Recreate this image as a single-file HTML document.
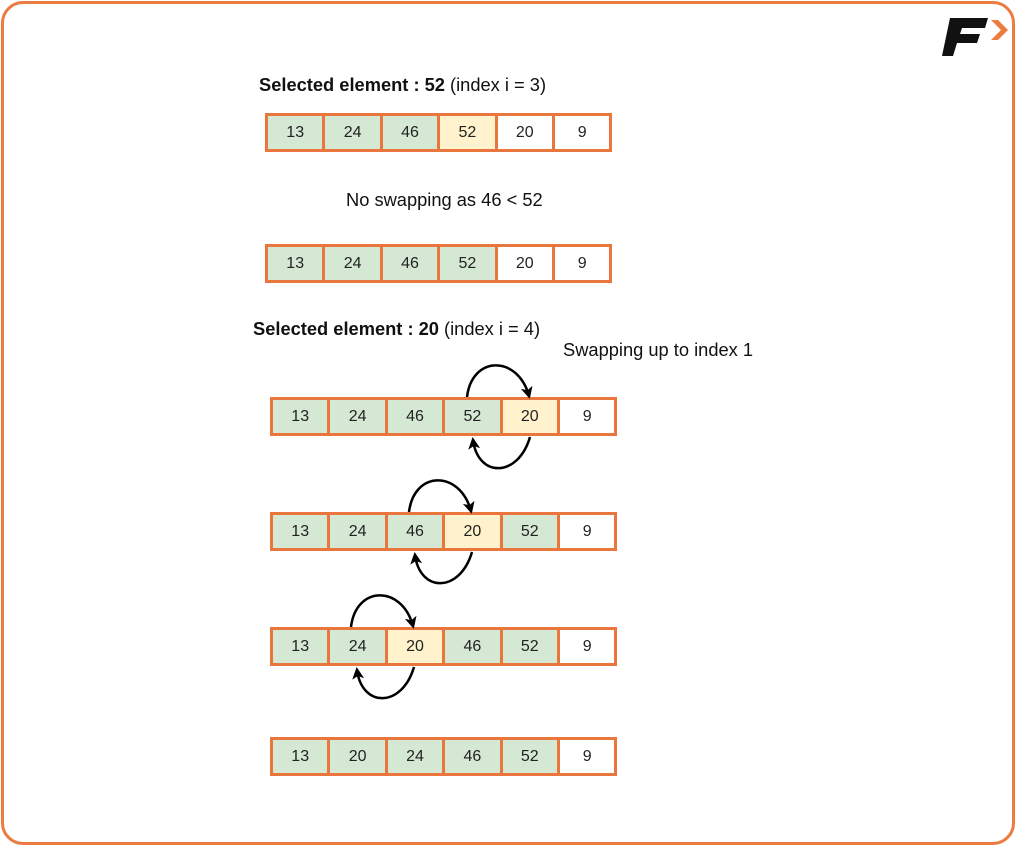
<!DOCTYPE html>
<html><head><style>
body{margin:0;width:1015px;height:845px;background:#fff;font-family:"Liberation Sans",sans-serif;position:relative;overflow:hidden}
.frame{position:absolute;left:1px;top:1px;width:1008px;height:838px;border:3px solid #ec7b40;border-radius:22px}
.row{position:absolute;display:flex;height:39px;box-sizing:border-box}
.c{width:60.4px;height:39px;box-sizing:border-box;border:3px solid #e9773d;margin-left:-3px;display:flex;align-items:center;justify-content:center;font-size:16px;color:#222;background:#fff;flex:none}
.c:first-child{margin-left:0}
.g{background:#d5e8d4}.y{background:#fff2cc}
.t{position:absolute;font-size:18.3px;color:#111;white-space:nowrap}
</style></head><body>
<div class="frame"></div>
<svg style="position:absolute;left:940px;top:14px" width="70" height="45">
<polygon points="10,4 48,4 45,14 22,14 20,20 40,20 37,29 17,29 13,42 2,42" fill="#111"/>
<polygon points="51,6 58,6 68,16 58,26 51,26 61,16" fill="#ec7b40"/>
</svg>
<div class="t" style="left:259px;top:74px"><b>Selected element : 52</b> (index i = 3)</div>
<div class="row" style="left:265px;top:113px"><div class="c g">13</div><div class="c g">24</div><div class="c g">46</div><div class="c y">52</div><div class="c">20</div><div class="c">9</div></div>
<div class="t" style="left:346px;top:189px">No swapping as 46 &lt; 52</div>
<div class="row" style="left:265px;top:244px"><div class="c g">13</div><div class="c g">24</div><div class="c g">46</div><div class="c g">52</div><div class="c">20</div><div class="c">9</div></div>
<div class="t" style="left:253px;top:318px"><b>Selected element : 20</b> (index i = 4)</div>
<div class="t" style="left:563px;top:339px">Swapping up to index 1</div>
<div class="row" style="left:270px;top:397px"><div class="c g">13</div><div class="c g">24</div><div class="c g">46</div><div class="c g">52</div><div class="c y">20</div><div class="c">9</div></div>
<div class="row" style="left:270px;top:512px"><div class="c g">13</div><div class="c g">24</div><div class="c g">46</div><div class="c y">20</div><div class="c g">52</div><div class="c">9</div></div>
<div class="row" style="left:270px;top:627px"><div class="c g">13</div><div class="c g">24</div><div class="c y">20</div><div class="c g">46</div><div class="c g">52</div><div class="c">9</div></div>
<div class="row" style="left:270px;top:737px"><div class="c g">13</div><div class="c g">20</div><div class="c g">24</div><div class="c g">46</div><div class="c g">52</div><div class="c">9</div></div>
<svg style="position:absolute;left:0;top:0" width="1015" height="845">
<defs><marker id="a" markerWidth="12" markerHeight="12" refX="9" refY="6" orient="auto" markerUnits="userSpaceOnUse" viewBox="0 0 12 12"><path d="M0,0 L12,6 L0,12 L3,6z" fill="#000"/></marker></defs>
<g fill="none" stroke="#000" stroke-width="2.5" marker-end="url(#a)">
<path d="M467,397 C472,355 518,355 529,396"/>
<path d="M530,437 C518,478 478,478 473,440"/>
<path d="M409,512 C414,470 460,470 471,511"/>
<path d="M472,552 C460,593 420,593 415,555"/>
<path d="M351,627 C356,585 402,585 413,626"/>
<path d="M414,667 C402,708 362,708 357,670"/>
</g></svg>
</body></html>
